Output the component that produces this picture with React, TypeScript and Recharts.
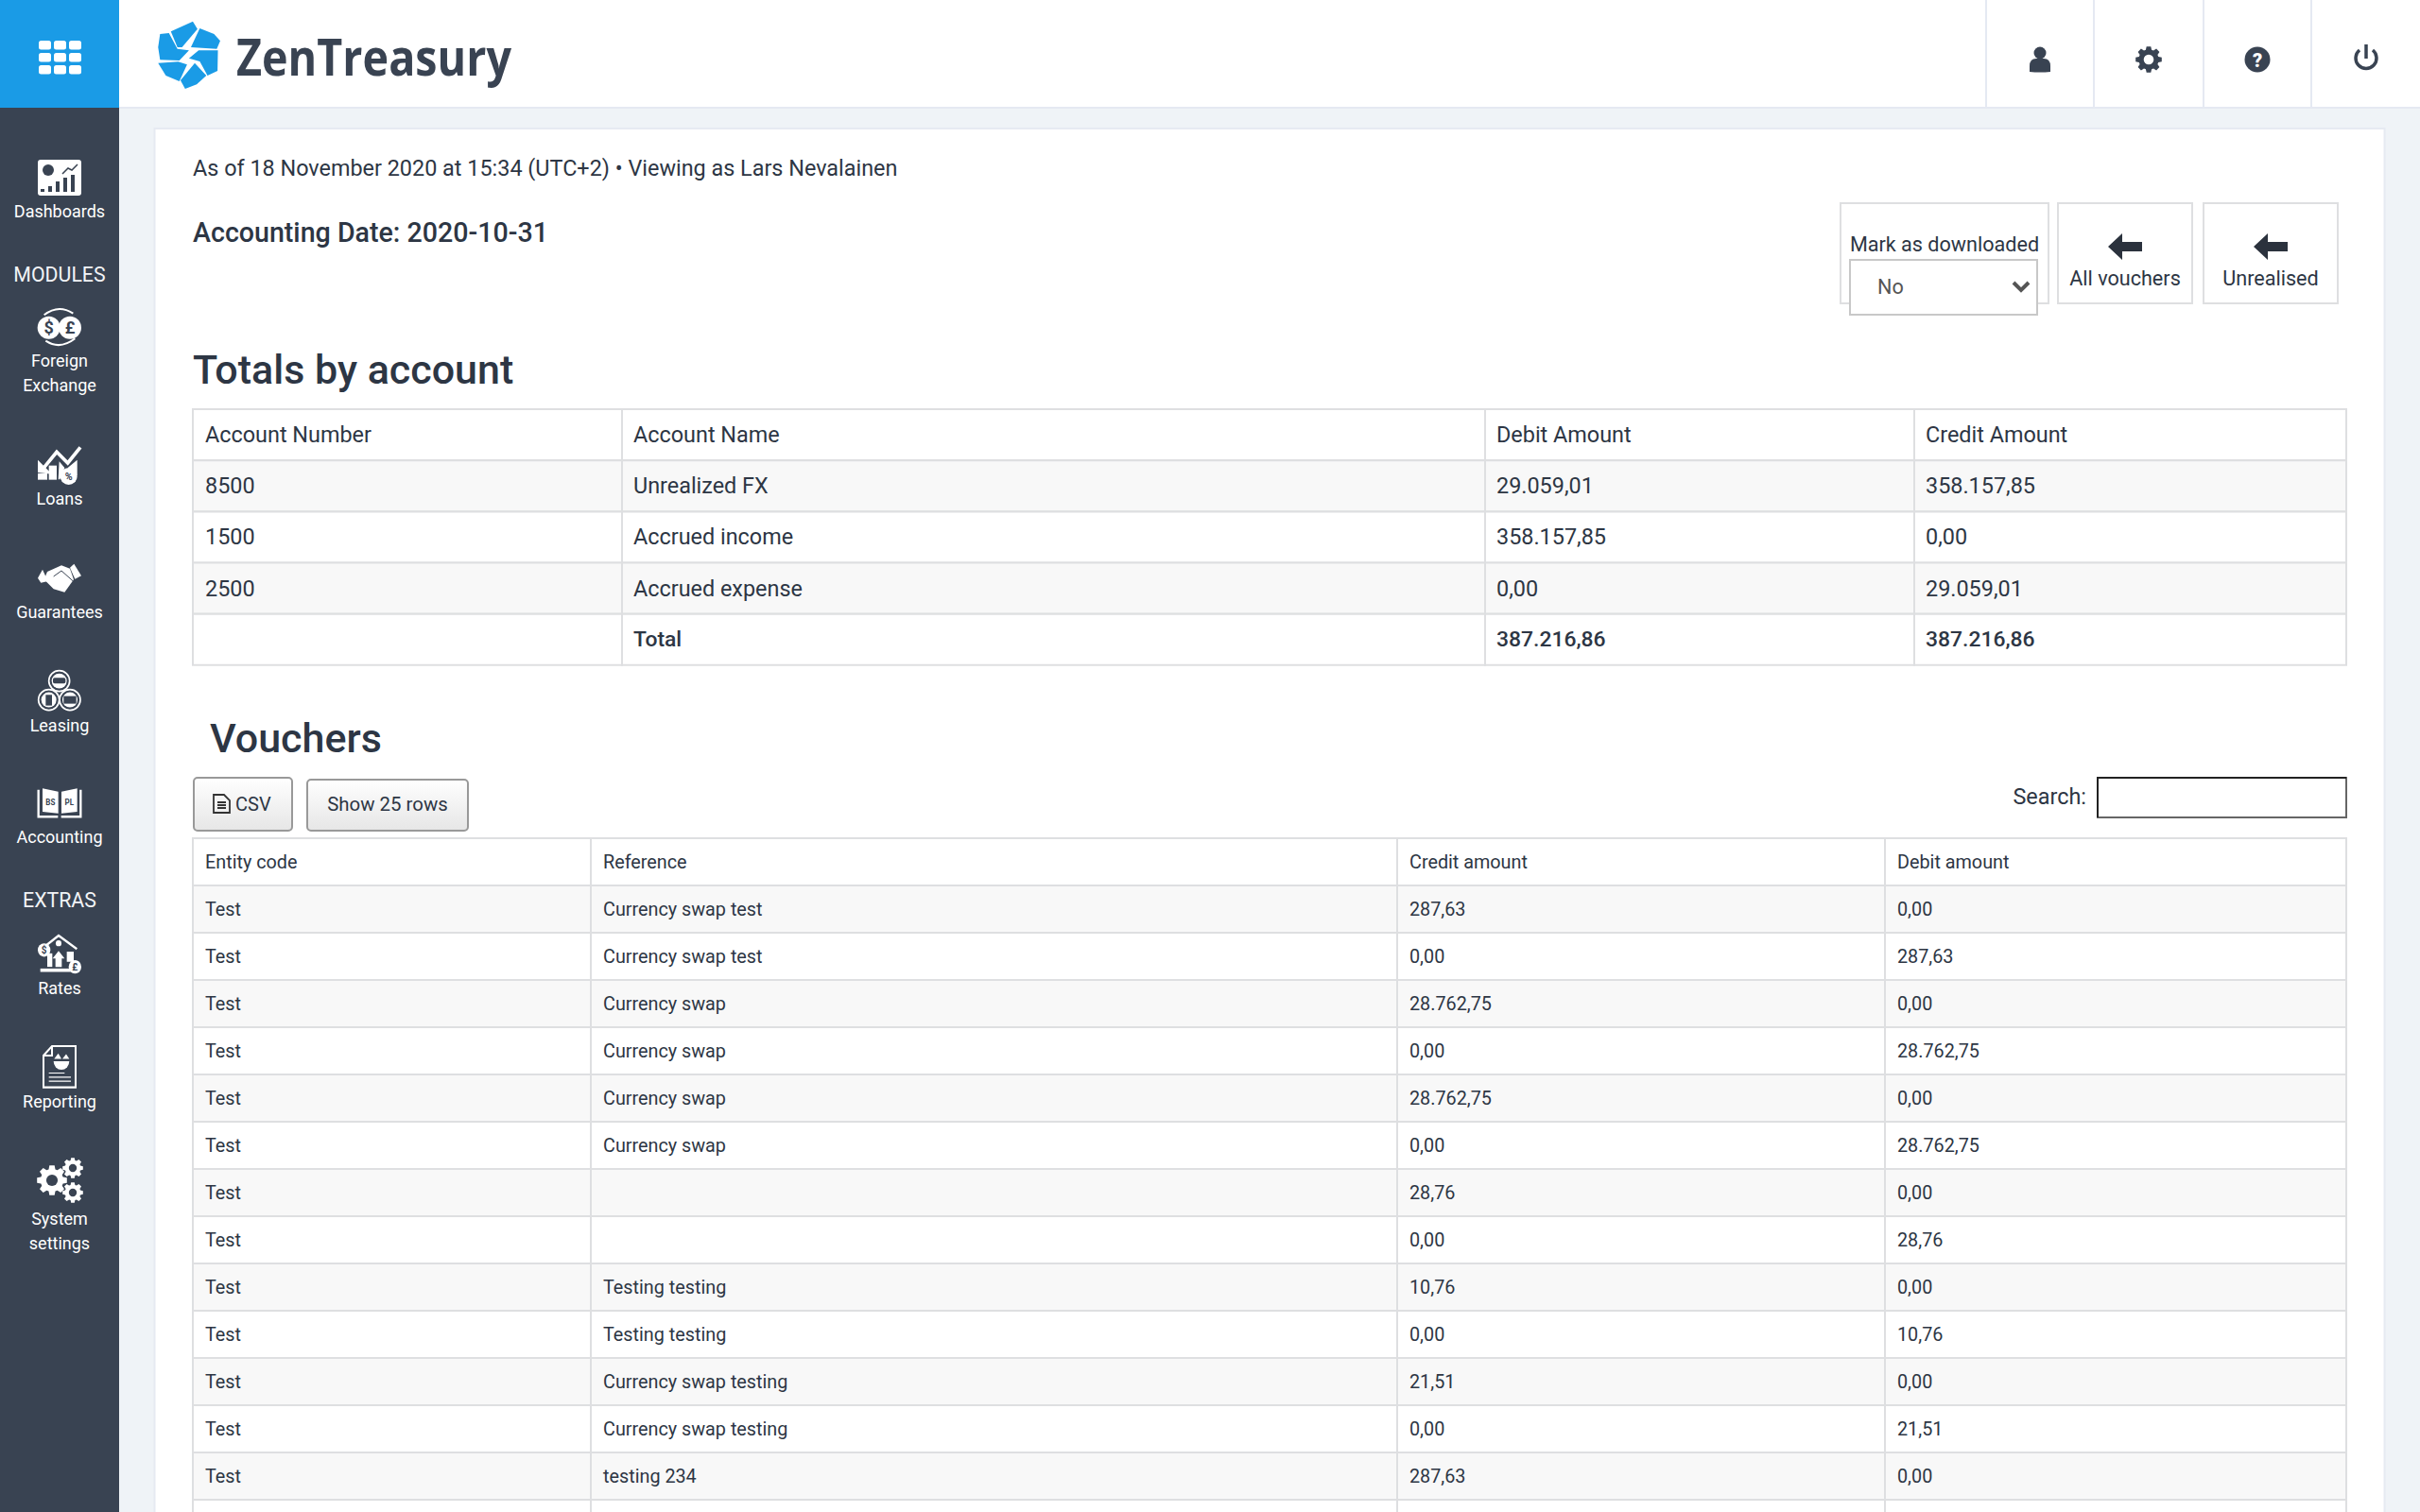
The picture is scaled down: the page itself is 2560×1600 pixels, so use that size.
import React from "react";
import { BarChart, Bar, XAxis, YAxis, Cell, LabelList } from "recharts";

// totals by account
const accountHeaders = ["Account Number", "Account Name", "Debit Amount", "Credit Amount"];
const accountNumbers = ["8500", "1500", "2500", ""];
const accountNames = ["Unrealized FX", "Accrued income", "Accrued expense", "Total"];
const accountDebits = [29059.01, 358157.85, 0, 387216.86];
const accountCredits = [358157.85, 0, 29059.01, 387216.86];

// vouchers, the screenshot cuts off right after the 13th row
const voucherHeaders = ["Entity code", "Reference", "Credit amount", "Debit amount"];
const voucherEntities = ["Test", "Test", "Test", "Test", "Test", "Test", "Test", "Test", "Test", "Test", "Test", "Test", "Test"];
const voucherRefs = [
  "Currency swap test", "Currency swap test", "Currency swap", "Currency swap", "Currency swap", "Currency swap", "", "",
  "Testing testing", "Testing testing", "Currency swap testing", "Currency swap testing", "testing 234",
];
const voucherCredits = [287.63, 0, 28762.75, 0, 28762.75, 0, 28.76, 0, 10.76, 0, 21.51, 0, 287.63];
const voucherDebits = [0, 287.63, 0, 28762.75, 0, 28762.75, 0, 28.76, 0, 10.76, 0, 21.51, 0];

const navItems = [
  { lines: ["Dashboards"], y: 223 },
  { lines: ["Foreign", "Exchange"], y: 381 },
  { lines: ["Loans"], y: 527 },
  { lines: ["Guarantees"], y: 647 },
  { lines: ["Leasing"], y: 767 },
  { lines: ["Accounting"], y: 885 },
  { lines: ["Rates"], y: 1045 },
  { lines: ["Reporting"], y: 1165 },
  { lines: ["System", "settings"], y: 1289 },
];

const FONT = "Roboto, sans-serif";
const INK = "#2d3644";
const SIDE = "#394352";
const BLUE = "#1a9be6";
const GRID = "#dedfe1";

const money = (v: number) =>
  v.toLocaleString("de-DE", { minimumFractionDigits: 2, maximumFractionDigits: 2 });

const buildRows = (header: string[], cols: string[][], widths: number[]) => {
  const make = (id: string, cells: string[]) => {
    const row: Record<string, string | number> = { id };
    cells.forEach((c, i) => {
      row[`c${i}`] = c;
      row[`w${i}`] = widths[i];
    });
    return row;
  };
  return [make("head", header), ...cols[0].map((_, r) => make(`r${r}`, cols.map((c) => c[r])))];
};

const accountWidths = [454, 913, 454, 457];
const voucherWidths = [421, 853, 516, 488];

const accountRows = buildRows(
  accountHeaders,
  [accountNumbers, accountNames, accountDebits.map(money), accountCredits.map(money)],
  accountWidths
);
const voucherRows = [
  ...buildRows(
    voucherHeaders,
    [voucherEntities, voucherRefs, voucherCredits.map(money), voucherDebits.map(money)],
    voucherWidths
  ),
  { id: "partial", c0: "", c1: "", c2: "", c3: "", w0: voucherWidths[0], w1: voucherWidths[1], w2: voucherWidths[2], w3: voucherWidths[3] },
];

// a table is a stacked horizontal bar chart: one bar per column, one band per row
const CellTable = ({ rows, widths, left, top, rowH, size, boldRows, pad }: any) => {
  const total = widths.reduce((a: number, b: number) => a + b, 0);
  const label = (p: any) => {
    const box = p.viewBox ?? p;
    if (p.value === "" || p.value == null) return null;
    const bold = boldRows.includes(p.index);
    return (
      <text
        x={box.x + (box.x < 10 ? 13 : pad)}
        y={box.y + box.height / 2}
        dominantBaseline="central"
        fontFamily={FONT}
        fontSize={bold ? size - 0.5 : size}
        fontWeight={bold ? 500 : 400}
        fill={INK}
      >
        {p.value}
      </text>
    );
  };
  return (
    <div style={{ position: "absolute", left: left - 1, top: top - 1 }}>
      <BarChart
        layout="vertical"
        width={total + 2}
        height={rows.length * rowH + 2}
        data={rows}
        margin={{ top: 1, right: 1, bottom: 1, left: 1 }}
        barCategoryGap={0}
        barGap={0}
      >
        <XAxis type="number" domain={[0, total]} hide />
        <YAxis type="category" dataKey="id" hide />
        {widths.map((_: number, i: number) => (
          <Bar key={i} dataKey={`w${i}`} stackId="t" stroke={GRID} strokeWidth={2} isAnimationActive={false}>
            {rows.map((_r: any, r: number) => (
              <Cell key={r} fill={r % 2 === 1 ? "#f8f8f8" : "#ffffff"} />
            ))}
            <LabelList dataKey={`c${i}`} content={label} />
          </Bar>
        ))}
      </BarChart>
    </div>
  );
};

const gearPath = (cx: number, cy: number, R: number, r: number, teeth: number) => {
  const pts: string[] = [];
  const step = (Math.PI * 2) / teeth;
  for (let i = 0; i < teeth; i++) {
    const a = i * step;
    [[-0.3, r], [-0.17, R], [0.17, R], [0.3, r]].forEach(([o, d]) => {
      const t = a + o * step * 1.25;
      pts.push(`${(cx + Math.cos(t) * d).toFixed(1)},${(cy + Math.sin(t) * d).toFixed(1)}`);
    });
  }
  return `M${pts.join("L")}Z`;
};

const Txt = ({ x, y, size = 23.4, weight = 400, fill = INK, anchor = "start", children }: any) => (
  <text x={x} y={y} fontFamily={FONT} fontSize={size} fontWeight={weight} fill={fill} textAnchor={anchor} dominantBaseline="central">
    {children}
  </text>
);

const BackArrow = ({ cx, cy }: any) => (
  <polygon
    fill="#2b323d"
    points={`${cx - 18},${cy} ${cx - 3},${cy - 14} ${cx - 3},${cy - 5} ${cx + 18},${cy - 5} ${cx + 18},${cy + 5} ${cx - 3},${cy + 5} ${cx - 3},${cy + 14}`}
  />
);

const Gear = ({ cx, cy, R, fill, hole }: any) => (
  <g>
    <path d={gearPath(cx, cy, R, R * 0.76, 8)} fill={fill} />
    <circle cx={cx} cy={cy} r={R * 0.38} fill={hole} />
  </g>
);

const Logo = () => (
  <g transform="scale(0.408,0.3333)" fill={BLUE}>
    <polygon points="443,100 500,68 512,92 472,150 460,150" />
    <polygon points="518,90 555,108 571,130 562,155 495,150" />
    <polygon points="515,160 565,160 564,225 538,240 518,195 490,185" />
    <polygon points="415,108 438,105 460,155 490,160 465,192 415,190 410,150" />
    <polygon points="410,200 462,196 485,205 465,258 430,240" />
    <polygon points="505,200 535,240 510,268 480,282 468,255" />
  </g>
);

const NavIcons = () => (
  <g>
    {/* dashboards */}
    <rect x={40} y={169} width={46} height={38} rx={3} fill="#fff" />
    <circle cx={51} cy={180} r={6} fill={SIDE} />
    <polyline points="66,184 72,178 76,180 82,174" fill="none" stroke={SIDE} strokeWidth={1.5} />
    {[[43, 200], [51, 197], [59, 192], [67, 188], [75, 185]].map(([x, y]) => (
      <rect key={x} x={x} y={y} width={4} height={203 - y} fill={SIDE} />
    ))}
    <g transform="translate(0,300) scale(0.3333)">
      {/* foreign exchange */}
      <circle cx={155} cy={140} r={36} fill="#fff" />
      <circle cx={222} cy={140} r={36} fill="#fff" />
      <text x={155} y={158} fontFamily={FONT} fontWeight={700} fontSize={54} textAnchor="middle" fill={SIDE}>$</text>
      <text x={222} y={158} fontFamily={FONT} fontWeight={700} fontSize={54} textAnchor="middle" fill={SIDE}>£</text>
      <path d="M140,100 Q185,65 232,95 M238,175 Q190,212 145,182" fill="none" stroke="#fff" strokeWidth={6} />
      {/* loans */}
      <polyline points="135,590 180,535 215,570 255,520" fill="none" stroke="#fff" strokeWidth={11} />
      <polygon points="120,560 165,605 120,600" fill="#fff" />
      <rect x={120} y={603} width={30} height={20} fill="#fff" />
      <rect x={155} y={578} width={25} height={45} fill="#fff" />
      <polygon points="188,565 205,585 190,622 185,622" fill="#fff" />
      <polygon points="245,560 245,610 215,585" fill="#fff" />
      <circle cx={218} cy={612} r={27} fill="#fff" />
      <text x={218} y={624} fontFamily={FONT} fontWeight={700} fontSize={32} textAnchor="middle" fill={SIDE}>%</text>
      {/* guarantees */}
      <polygon points="120,935 135,908 152,945 130,950" fill="#fff" />
      <polygon points="235,890 258,928 238,938 222,902" fill="#fff" />
      <polygon points="150,915 195,895 222,905 234,940 205,980 170,970 140,940" fill="#fff" />
      <polyline points="170,930 195,912 232,945" fill="none" stroke={SIDE} strokeWidth={3} />
      {/* leasing */}
      {[[188, 1262], [155, 1322], [222, 1322]].map(([x, y]) => (
        <g key={x}>
          <circle cx={x} cy={y} r={33} fill={SIDE} stroke="#fff" strokeWidth={5} />
          <circle cx={x} cy={y} r={24} fill="#fff" />
        </g>
      ))}
      <rect x={168} y={1252} width={40} height={18} rx={5} fill={SIDE} />
      <rect x={145} y={1306} width={20} height={34} fill={SIDE} />
      <rect x={202} y={1310} width={40} height={24} fill={SIDE} />
    </g>
    <g transform="translate(0,800) scale(0.3333,0.357)">
      {/* accounting */}
      <path d="M122,100 V180 H184 M256,100 V180 H194" fill="none" stroke="#fff" strokeWidth={7} />
      <polygon points="135,96 185,106 185,170 135,165" fill="#fff" />
      <polygon points="195,106 245,96 245,165 195,170" fill="#fff" />
      <text x={160} y={147} fontFamily={FONT} fontWeight={700} fontSize={24} textAnchor="middle" fill={SIDE}>BS</text>
      <text x={220} y={147} fontFamily={FONT} fontWeight={700} fontSize={24} textAnchor="middle" fill={SIDE}>PL</text>
      {/* rates */}
      <polyline points="132,572 186,532 244,572" fill="none" stroke="#fff" strokeWidth={7} />
      <circle cx={186} cy={555} r={9} fill="#fff" />
      <rect x={150} y={585} width={16} height={40} fill="#fff" />
      <polygon points="186,578 205,600 196,600 196,625 176,625 176,600 167,600" fill="#fff" />
      <rect x={212} y={580} width={22} height={30} fill="#fff" />
      <rect x={128} y={630} width={96} height={10} fill="#fff" />
      <circle cx={140} cy={575} r={20} fill="#fff" />
      <text x={140} y={586} fontFamily={FONT} fontWeight={700} fontSize={30} textAnchor="middle" fill={SIDE}>$</text>
      <circle cx={238} cy={625} r={20} fill="#fff" />
      <text x={238} y={636} fontFamily={FONT} fontWeight={700} fontSize={30} textAnchor="middle" fill={SIDE}>£</text>
      {/* reporting */}
      <path d="M165,860 H240 V982 H138 V888 Z M165,860 V888 H138" fill="none" stroke="#fff" strokeWidth={6} />
      <path d="M170,905 H220 A25,25 0 0 1 170,905 Z" fill="#fff" />
      <polygon points="172,898 185,882 195,898" fill="#fff" />
      <polygon points="198,898 210,884 220,898" fill="#fff" />
      <path d="M155,940 H205 M155,952 H225 M155,964 H225" stroke="#fff" strokeWidth={3} />
    </g>
    {/* system settings */}
    <Gear cx={55} cy={1249} R={16} fill="#fff" hole={SIDE} />
    <Gear cx={77} cy={1236} R={11} fill="#fff" hole={SIDE} />
    <Gear cx={77} cy={1262} R={11} fill="#fff" hole={SIDE} />
  </g>
);

const HeaderIcons = () => (
  <g>
    <circle cx={2158} cy={56} r={6.5} fill={SIDE} />
    <path d="M2147,76 V70 Q2147,62 2154,62 H2162 Q2169,62 2169,70 V76 Q2158,77 2147,76 Z" fill={SIDE} />
    <Gear cx={2273} cy={63} R={14} fill={SIDE} hole="#fff" />
    <circle cx={2388} cy={63} r={13.5} fill={SIDE} />
    <text x={2388} y={64} fontFamily={FONT} fontWeight={900} fontSize={20} fill="#fff" textAnchor="middle" dominantBaseline="central">?</text>
    <path d="M2496,53 A11,11 0 1 0 2510,53" fill="none" stroke={SIDE} strokeWidth={3.5} />
    <line x1={2503} y1={47} x2={2503} y2={62} stroke={SIDE} strokeWidth={3.5} />
  </g>
);

export default function App() {
  return (
    <div style={{ position: "absolute", left: 0, top: 0, width: 2560, height: 1600, overflow: "hidden", background: "#eff3f7" }}>
      <svg width={2560} height={1600} style={{ position: "absolute", left: 0, top: 0 }}>
        <defs>
          <linearGradient id="btn" x1="0" y1="0" x2="0" y2="1">
            <stop offset="0" stopColor="#ffffff" />
            <stop offset="1" stopColor="#e6e6e6" />
          </linearGradient>
        </defs>

        {/* top bar */}
        <rect x={0} y={0} width={2560} height={113} fill="#fff" />
        <rect x={0} y={113} width={2560} height={2} fill="#e5e9f2" />
        {[2101, 2215, 2331, 2445].map((x) => (
          <rect key={x} x={x - 1} y={0} width={2} height={114} fill="#e5e9f2" />
        ))}
        <HeaderIcons />
        <Logo />
        <text x={250} y={80} fontFamily="'Open Sans', sans-serif" fontWeight={700} fontSize={54} fill={SIDE} textLength={291} lengthAdjust="spacingAndGlyphs">
          ZenTreasury
        </text>

        {/* sidebar */}
        <rect x={0} y={114} width={126} height={1486} fill={SIDE} />
        <rect x={0} y={0} width={126} height={114} fill={BLUE} />
        {[41, 57, 73].map((x) =>
          [43, 56, 69].map((y) => <rect key={`${x}-${y}`} x={x} y={y} width={13} height={9.5} rx={2.5} fill="#fff" />)
        )}
        <NavIcons />
        {navItems.map((n) =>
          n.lines.map((l, i) => (
            <Txt key={l} x={63} y={n.y + i * 26} size={18} fill="#fff" anchor="middle">
              {l}
            </Txt>
          ))
        )}
        <Txt x={63} y={290} size={21.3} fill="#f2f4f7" anchor="middle">MODULES</Txt>
        <Txt x={63} y={952} size={21.3} fill="#f2f4f7" anchor="middle">EXTRAS</Txt>

        {/* panel */}
        <rect x={163.5} y={136} width={2359} height={1480} fill="#fff" stroke="#e6eaf2" strokeWidth={2} />
        <Txt x={204} y={178}>As of 18 November 2020 at 15:34 (UTC+2) • Viewing as Lars Nevalainen</Txt>
        <Txt x={204} y={246} size={28.6} weight={500}>Accounting Date: 2020-10-31</Txt>
        <Txt x={204} y={391} size={43} weight={500}>Totals by account</Txt>
        <Txt x={222} y={781} size={43} weight={500}>Vouchers</Txt>

        {/* top right controls */}
        <rect x={1947} y={215} width={220} height={106} fill="#fff" stroke={GRID} strokeWidth={2} />
        <rect x={2177} y={215} width={142} height={106} fill="#fff" stroke={GRID} strokeWidth={2} />
        <rect x={2331} y={215} width={142} height={106} fill="#fff" stroke={GRID} strokeWidth={2} />
        <Txt x={2057} y={258} size={21.6} anchor="middle">Mark as downloaded</Txt>
        <rect x={1957} y={275} width={198} height={58} fill="#fff" stroke="#c8c8c8" strokeWidth={2} />
        <Txt x={1986} y={303} size={21.6} fill="#555">No</Txt>
        <polyline points="2130,299 2138,307 2146,299" fill="none" stroke="#555" strokeWidth={4} />
        <BackArrow cx={2248} cy={261} />
        <Txt x={2248} y={294} size={21.6} anchor="middle">All vouchers</Txt>
        <BackArrow cx={2402} cy={261} />
        <Txt x={2402} y={294} size={21.6} anchor="middle">Unrealised</Txt>

        {/* voucher toolbar */}
        <rect x={205} y={823} width={104} height={56} rx={4} fill="url(#btn)" stroke="#999" strokeWidth={2} />
        <rect x={325} y={825} width={170} height={54} rx={4} fill="url(#btn)" stroke="#999" strokeWidth={2} />
        <path d="M226,841 H237 L243,847 V860 H226 Z M230,849 H239 M230,852 H239 M230,855 H239" fill="none" stroke="#333" strokeWidth={1.8} />
        <Txt x={249} y={851} size={20}>CSV</Txt>
        <Txt x={410} y={851} size={20.4} anchor="middle">Show 25 rows</Txt>
        <Txt x={2207} y={843} size={23.4} anchor="end">Search:</Txt>
        <rect x={2219} y={823} width={263} height={42} fill="#fff" stroke="#666" strokeWidth={2} />
        <path d="M2219,865 V823 H2482" fill="none" stroke="#222" strokeWidth={2} />
      </svg>

      <CellTable rows={accountRows} widths={accountWidths} left={204} top={433} rowH={54.2} size={23.4} boldRows={[4]} pad={12} />
      <CellTable rows={voucherRows} widths={voucherWidths} left={204} top={887} rowH={50} size={19.8} boldRows={[]} pad={13} />
    </div>
  );
}
